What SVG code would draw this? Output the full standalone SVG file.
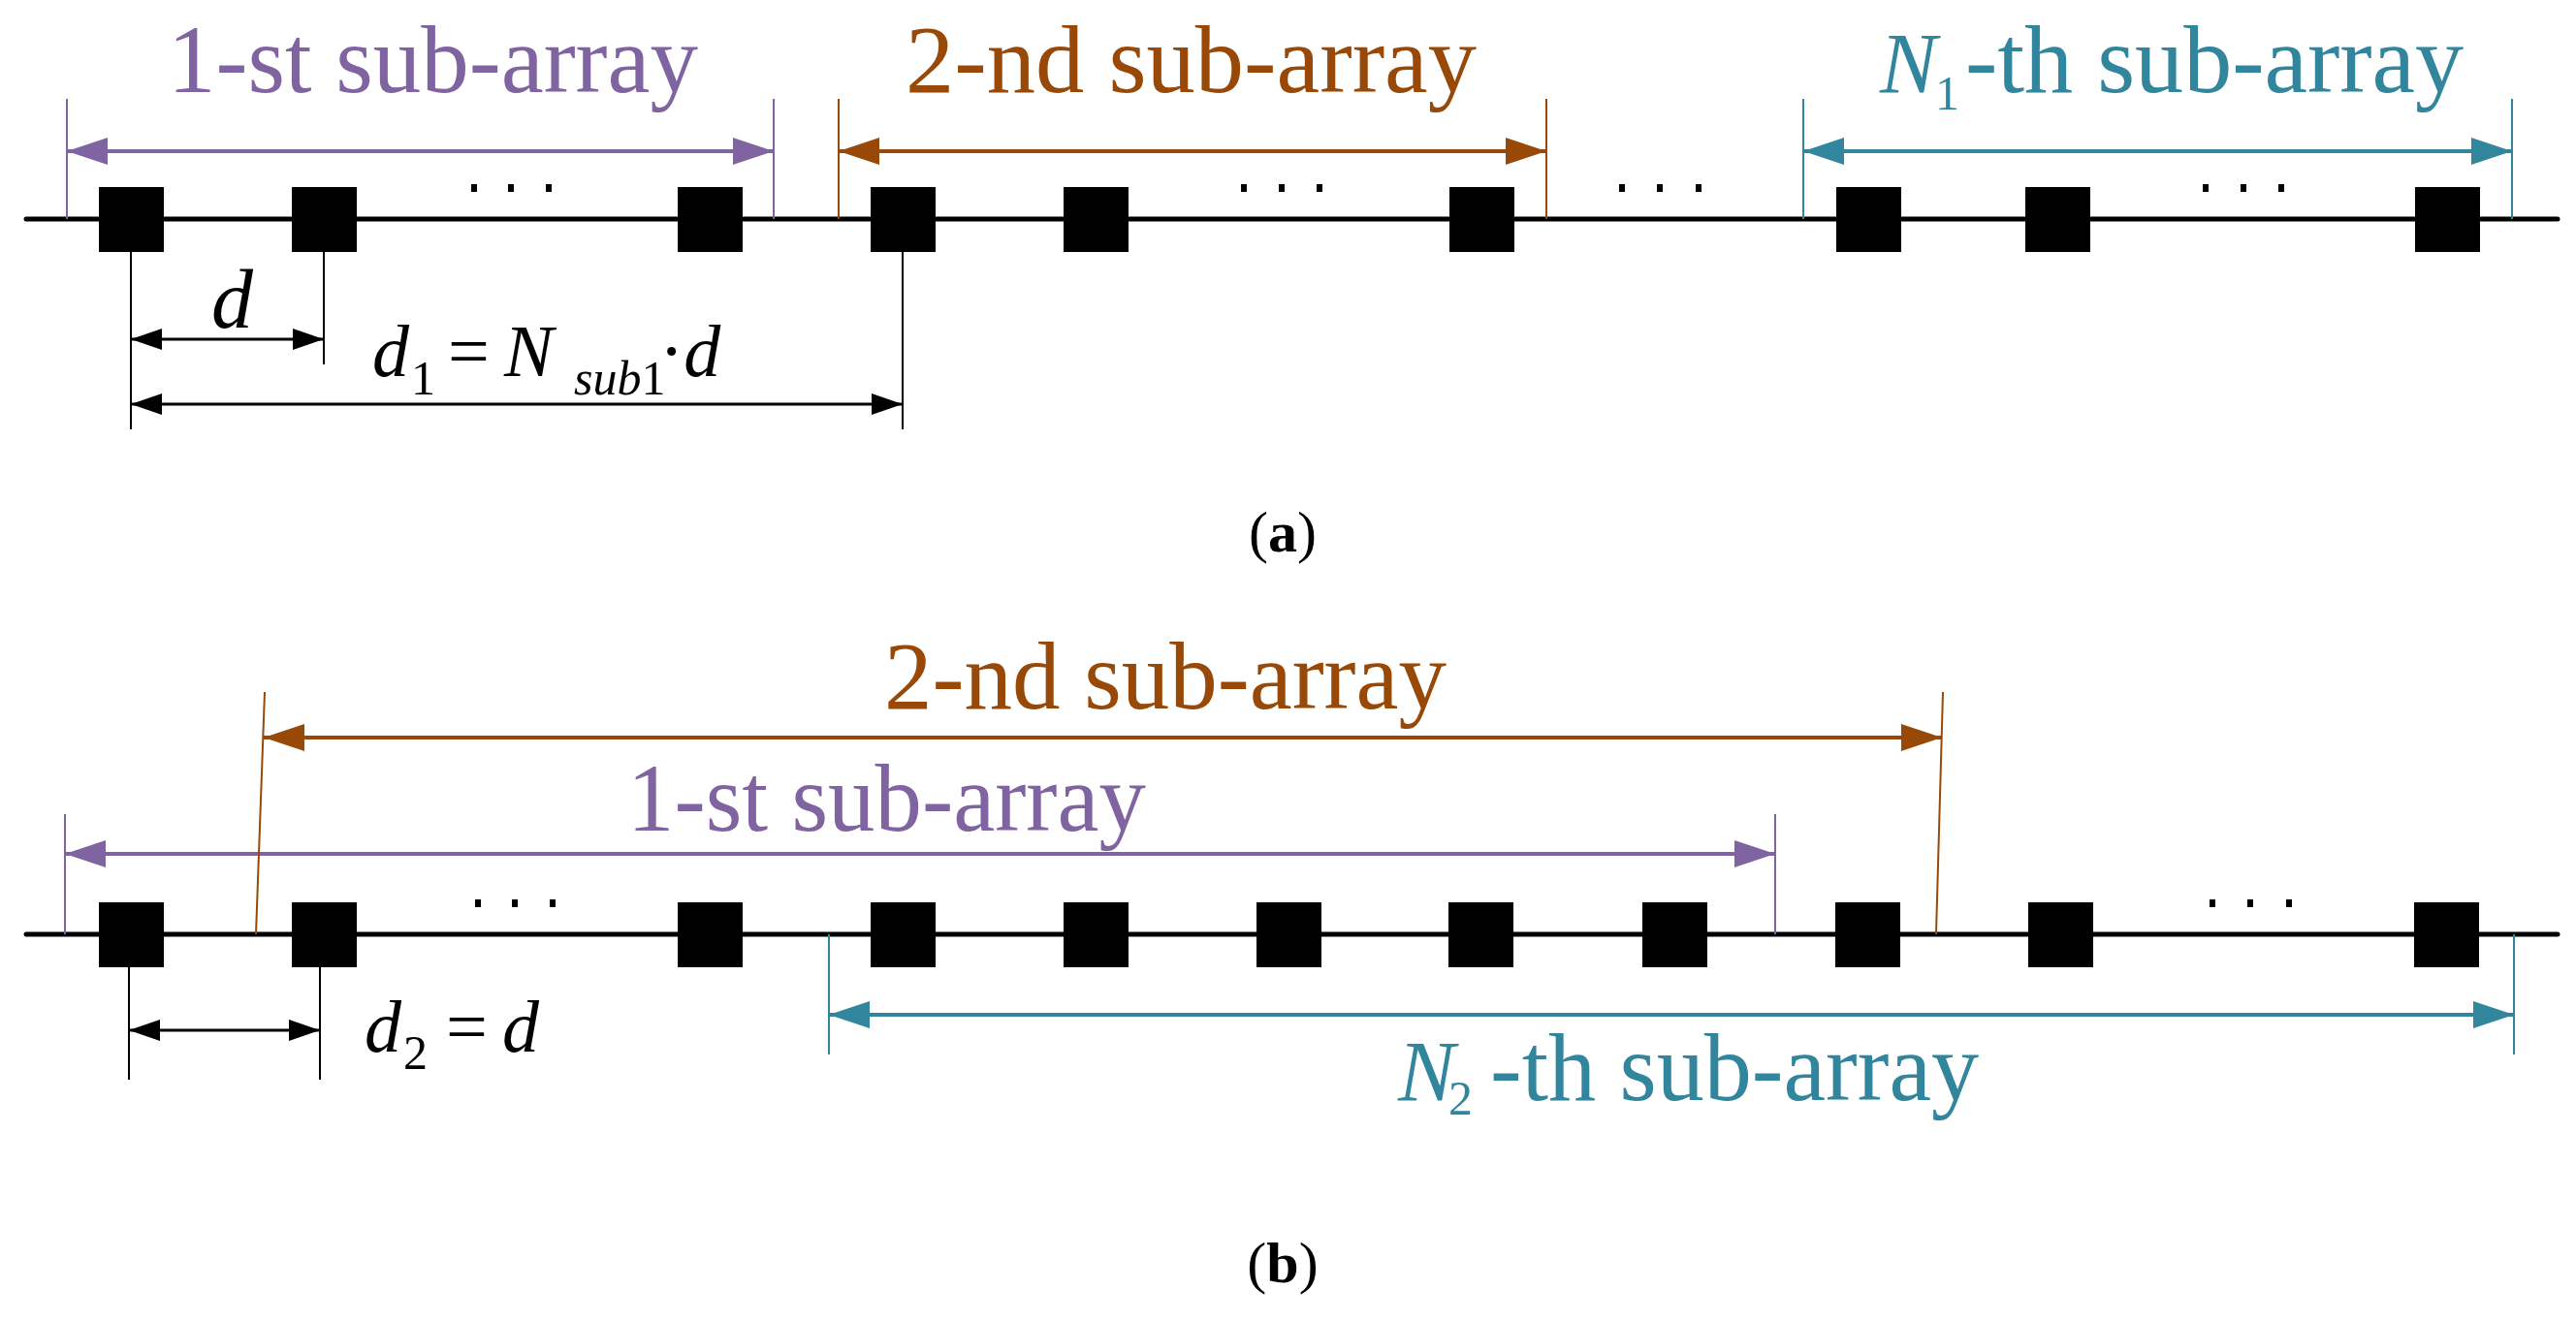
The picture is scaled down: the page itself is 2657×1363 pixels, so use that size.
<svg xmlns="http://www.w3.org/2000/svg" width="2657" height="1363" viewBox="0 0 2657 1363">
<style>
.t{font-family:"Liberation Serif","Times New Roman",serif;}
.i{font-style:italic;}
.el{fill:#000;}
.axis{stroke:#000;stroke-width:5;stroke-linecap:round;}
.pu{stroke:#8064A2;}
.or{stroke:#984807;}
.te{stroke:#31859C;}
.tick{stroke-width:2;fill:none;}
.dim{stroke-width:4;fill:none;}
.bk{stroke:#000;}
.bt{stroke:#000;stroke-width:2;}
.bd{stroke:#000;stroke-width:3;}
</style>
<defs>
<marker id="mp" markerUnits="userSpaceOnUse" markerWidth="42" markerHeight="28" refX="42" refY="14" orient="auto-start-reverse"><path d="M0,0L42,14L0,28z" fill="#8064A2"/></marker>
<marker id="mo" markerUnits="userSpaceOnUse" markerWidth="42" markerHeight="28" refX="42" refY="14" orient="auto-start-reverse"><path d="M0,0L42,14L0,28z" fill="#984807"/></marker>
<marker id="mt" markerUnits="userSpaceOnUse" markerWidth="42" markerHeight="28" refX="42" refY="14" orient="auto-start-reverse"><path d="M0,0L42,14L0,28z" fill="#31859C"/></marker>
<marker id="mk" markerUnits="userSpaceOnUse" markerWidth="32" markerHeight="22" refX="32" refY="11" orient="auto-start-reverse"><path d="M0,0L32,11L0,22z" fill="#000"/></marker>
</defs>
<rect width="2657" height="1363" fill="#fff"/>

<g id="axes">
<line class="axis" x1="27" y1="226" x2="2638" y2="226"/>
<line class="axis" x1="27" y1="964" x2="2638" y2="964"/>
</g>

<g id="elements-a" class="el">
<rect x="102" y="193" width="67" height="67"/><rect x="301" y="193" width="67" height="67"/>
<rect x="699" y="193" width="67" height="67"/><rect x="898" y="193" width="67" height="67"/>
<rect x="1097" y="193" width="67" height="67"/><rect x="1495" y="193" width="67" height="67"/>
<rect x="1894" y="193" width="67" height="67"/><rect x="2089" y="193" width="67" height="67"/>
<rect x="2491" y="193" width="67" height="67"/>
</g>
<g id="dots-a" class="el">
<rect x="486" y="190" width="6" height="8"/><rect x="524" y="190" width="6" height="8"/><rect x="563" y="190" width="6" height="8"/>
<rect x="1280" y="190" width="6" height="8"/><rect x="1319" y="190" width="6" height="8"/><rect x="1358" y="190" width="6" height="8"/>
<rect x="1670" y="190" width="6" height="8"/><rect x="1709" y="190" width="6" height="8"/><rect x="1749" y="190" width="6" height="8"/>
<rect x="2272" y="190" width="6" height="8"/><rect x="2311" y="190" width="6" height="8"/><rect x="2350" y="190" width="6" height="8"/>
</g>

<g id="elements-b" class="el">
<rect x="102" y="931" width="67" height="67"/><rect x="301" y="931" width="67" height="67"/>
<rect x="699" y="931" width="67" height="67"/><rect x="898" y="931" width="67" height="67"/>
<rect x="1097" y="931" width="67" height="67"/><rect x="1296" y="931" width="67" height="67"/>
<rect x="1494" y="931" width="67" height="67"/><rect x="1694" y="931" width="67" height="67"/>
<rect x="1893" y="931" width="67" height="67"/><rect x="2092" y="931" width="67" height="67"/>
<rect x="2490" y="931" width="67" height="67"/>
</g>
<g id="dots-b" class="el">
<rect x="490" y="928" width="6" height="8"/><rect x="528" y="928" width="6" height="8"/><rect x="567" y="928" width="6" height="8"/>
<rect x="2279" y="928" width="6" height="8"/><rect x="2318" y="928" width="6" height="8"/><rect x="2358" y="928" width="6" height="8"/>
</g>

<g id="connectors">
<!-- panel a -->
<line class="pu tick" x1="69" y1="102" x2="69" y2="226"/>
<line class="pu tick" x1="798" y1="102" x2="798" y2="226"/>
<line class="pu dim" x1="69" y1="156" x2="798" y2="156" marker-start="url(#mp)" marker-end="url(#mp)"/>
<line class="or tick" x1="865" y1="102" x2="865" y2="226"/>
<line class="or tick" x1="1595" y1="102" x2="1595" y2="226"/>
<line class="or dim" x1="865" y1="156" x2="1595" y2="156" marker-start="url(#mo)" marker-end="url(#mo)"/>
<line class="te tick" x1="1860" y1="102" x2="1860" y2="226"/>
<line class="te tick" x1="2591" y1="102" x2="2591" y2="226"/>
<line class="te dim" x1="1860" y1="156" x2="2591" y2="156" marker-start="url(#mt)" marker-end="url(#mt)"/>
<line class="bt" x1="135" y1="260" x2="135" y2="443"/>
<line class="bt" x1="334" y1="260" x2="334" y2="376"/>
<line class="bt" x1="931" y1="260" x2="931" y2="443"/>
<line class="bd" x1="135" y1="350" x2="334" y2="350" marker-start="url(#mk)" marker-end="url(#mk)"/>
<line class="bd" x1="135" y1="417" x2="931" y2="417" marker-start="url(#mk)" marker-end="url(#mk)"/>
<!-- panel b -->
<line class="pu tick" x1="67" y1="840" x2="67" y2="964"/>
<line class="pu tick" x1="1831" y1="840" x2="1831" y2="964"/>
<line class="pu dim" x1="67" y1="881" x2="1831" y2="881" marker-start="url(#mp)" marker-end="url(#mp)"/>
<line class="or tick" x1="273" y1="714" x2="264" y2="964"/>
<line class="or tick" x1="2004" y1="714" x2="1997" y2="964"/>
<line class="or dim" x1="272" y1="761" x2="2003" y2="761" marker-start="url(#mo)" marker-end="url(#mo)"/>
<line class="te tick" x1="855" y1="964" x2="855" y2="1088"/>
<line class="te tick" x1="2593" y1="964" x2="2593" y2="1088"/>
<line class="te dim" x1="855" y1="1047" x2="2593" y2="1047" marker-start="url(#mt)" marker-end="url(#mt)"/>
<line class="bt" x1="133" y1="998" x2="133" y2="1114"/>
<line class="bt" x1="330" y1="998" x2="330" y2="1114"/>
<line class="bd" x1="133" y1="1063" x2="330" y2="1063" marker-start="url(#mk)" marker-end="url(#mk)"/>
</g>

<g id="labels-a" class="t">
<text x="173" y="95" font-size="100" fill="#8064A2" textLength="547" lengthAdjust="spacingAndGlyphs">1-st sub-array</text>
<text x="934" y="95" font-size="100" fill="#984807" textLength="589" lengthAdjust="spacingAndGlyphs">2-nd sub-array</text>
<g fill="#31859C">
<text x="1939" y="95" font-size="88" class="i">N</text>
<text x="1996" y="113" font-size="50">1</text>
<text x="2027" y="95" font-size="100" textLength="514" lengthAdjust="spacingAndGlyphs">-th sub-array</text>
</g>
<text x="218" y="338" font-size="86" class="i">d</text>
<text x="384" y="388" font-size="76" class="i">d</text>
<text x="424" y="407" font-size="50">1</text>
<text x="462" y="388" font-size="76">=</text>
<text x="520" y="388" font-size="76" class="i">N</text>
<text x="592" y="407" font-size="50"><tspan class="i">sub</tspan>1</text>
<text x="680" y="388" font-size="76">·<tspan class="i">d</tspan></text>
<text x="1323" y="569" font-size="60" text-anchor="middle">(<tspan font-weight="bold">a</tspan>)</text>
</g>

<g id="labels-b" class="t">
<text x="912" y="731" font-size="100" fill="#984807" textLength="580" lengthAdjust="spacingAndGlyphs">2-nd sub-array</text>
<text x="647" y="857" font-size="100" fill="#8064A2" textLength="535" lengthAdjust="spacingAndGlyphs">1-st sub-array</text>
<g fill="#31859C">
<text x="1442" y="1135" font-size="88" class="i">N</text>
<text x="1494" y="1150" font-size="50">2</text>
<text x="1537" y="1135" font-size="100" textLength="504" lengthAdjust="spacingAndGlyphs">-th sub-array</text>
</g>
<text x="376" y="1085" font-size="76" class="i">d</text>
<text x="416" y="1103" font-size="50">2</text>
<text x="460" y="1085" font-size="76">=</text>
<text x="518" y="1085" font-size="76" class="i">d</text>
<text x="1323" y="1323" font-size="60" text-anchor="middle">(<tspan font-weight="bold">b</tspan>)</text>
</g>
</svg>
